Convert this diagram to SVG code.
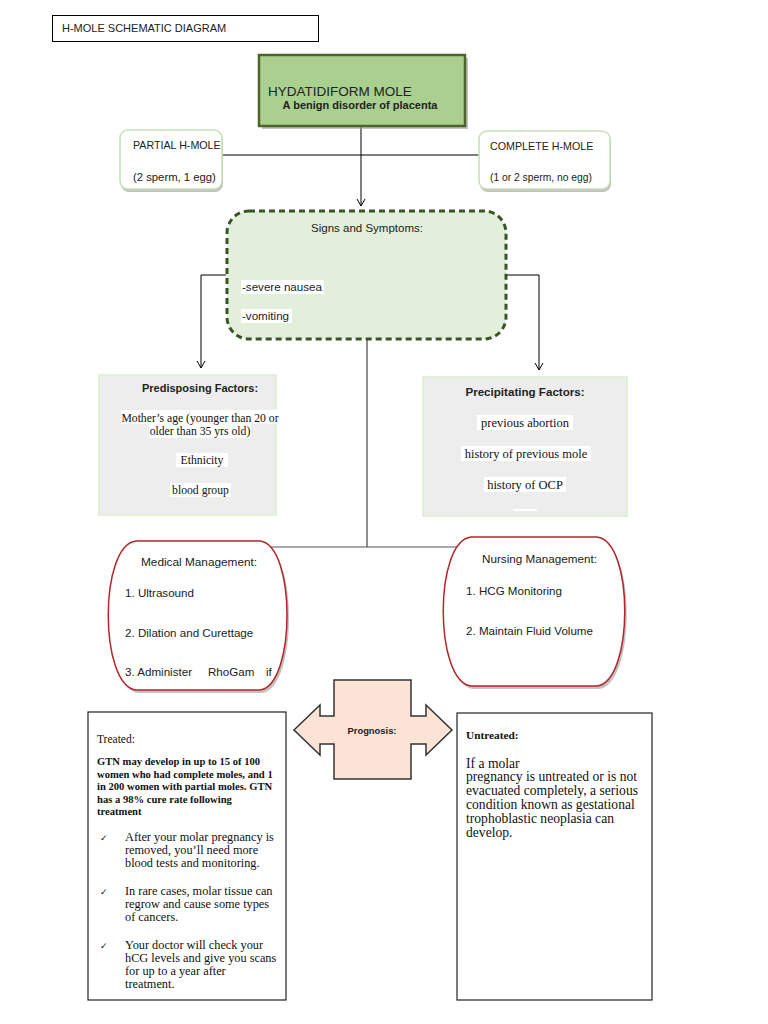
<svg xmlns="http://www.w3.org/2000/svg" width="768" height="1024" viewBox="0 0 768 1024">
<defs>
<marker id="arr" markerWidth="10" markerHeight="10" refX="8" refY="5" orient="auto" markerUnits="userSpaceOnUse">
<path d="M1,1 L8,5 L1,9" fill="none" stroke="#000" stroke-width="1"/>
</marker>
<style>
.sans{font-family:"Liberation Sans",Arial,sans-serif;fill:#222}
.serif{font-family:"Liberation Serif","Times New Roman",serif;fill:#111}
.conn{fill:none;stroke:#000;stroke-width:1}
.hl{fill:#fff}
.mgmt{fill:#fff;stroke:#b3262a;stroke-width:1.5}
.shadow{fill:#9a9a9a;opacity:0.6}
.card{fill:#fff;stroke:#c5e0b4;stroke-width:1.5}
.factor{fill:#ededed;stroke:#e2efd9;stroke-width:2}
.doc{fill:#fff;stroke:#222;stroke-width:1.2}
</style>
</defs>
<rect width="768" height="1024" fill="#fff"/>

<g id="title">
<rect x="52.5" y="15.5" width="266" height="26" fill="#fff" stroke="#000" stroke-width="1"/>
<text x="62" y="32" class="sans" font-size="11" fill="#000">H-MOLE SCHEMATIC DIAGRAM</text>
</g>

<g id="connectors">
<line x1="361" y1="126" x2="361" y2="206" class="conn" marker-end="url(#arr)"/>
<line x1="222" y1="155" x2="479" y2="155" class="conn"/>
<polyline points="226,275 201,275 201,368" class="conn" marker-end="url(#arr)"/>
<polyline points="506,275 539,275 539,370" class="conn" marker-end="url(#arr)"/>
<line x1="367" y1="339" x2="367" y2="547" stroke="#444" stroke-width="1.2"/>
<line x1="268" y1="547" x2="462" y2="547" stroke="#555" stroke-width="1.2"/>
</g>

<g id="hydatidiform">
<rect x="262" y="58" width="206" height="71" class="shadow"/>
<rect x="259" y="55" width="206" height="71" fill="#a9d08e" stroke="#4f6228" stroke-width="2.5"/>
<text x="268" y="96" class="sans" font-size="13.5" fill="#333">HYDATIDIFORM MOLE</text>
<text x="360" y="109" class="sans" font-size="11" font-weight="bold" text-anchor="middle" fill="#222">A benign disorder of placenta</text>
</g>

<g id="partial">
<rect x="121" y="133" width="102" height="59" rx="8" class="shadow"/>
<rect x="120" y="130" width="102" height="59" rx="8" class="card"/>
<text x="133" y="149" class="sans" font-size="10.7">PARTIAL H-MOLE</text>
<text x="133" y="181" class="sans" font-size="11.3">(2 sperm, 1 egg)</text>
</g>

<g id="complete">
<rect x="480" y="134" width="131" height="58" rx="8" class="shadow"/>
<rect x="479" y="131" width="131" height="58" rx="8" class="card"/>
<text x="490" y="150" class="sans" font-size="10.7">COMPLETE H-MOLE</text>
<text x="490" y="181" class="sans" font-size="10.3">(1 or 2 sperm, no egg)</text>
</g>

<g id="signs">
<rect x="227" y="211" width="279" height="128" rx="22" fill="#e2efda" stroke="#375623" stroke-width="3" stroke-dasharray="6 4"/>
<text x="367" y="232" class="sans" font-size="11.5" text-anchor="middle">Signs and Symptoms:</text>
<rect x="241" y="280" width="83" height="14" class="hl"/>
<text x="242" y="291" class="sans" font-size="11.6">-severe nausea</text>
<rect x="241" y="309" width="51" height="14" class="hl"/>
<text x="242" y="320" class="sans" font-size="11.6">-vomiting</text>
</g>

<g id="predisposing">
<rect x="99" y="375" width="177" height="140" class="factor"/>
<text x="200" y="392" class="sans" font-size="11" font-weight="bold" text-anchor="middle">Predisposing Factors:</text>
<rect x="121" y="410" width="159" height="14" class="hl"/>
<rect x="149" y="424" width="102" height="14" class="hl"/>
<text x="200" y="422" class="serif" font-size="11.7" text-anchor="middle">Mother’s age (younger than 20 or</text>
<text x="200" y="435" class="serif" font-size="11.7" text-anchor="middle">older than 35 yrs old)</text>
<rect x="176" y="453" width="52" height="14" class="hl"/>
<text x="202" y="464" class="serif" font-size="11.7" text-anchor="middle">Ethnicity</text>
<rect x="170" y="483" width="61" height="14" class="hl"/>
<text x="200.5" y="494" class="serif" font-size="11.7" text-anchor="middle">blood group</text>
</g>

<g id="precipitating">
<rect x="423" y="377" width="204" height="139" class="factor"/>
<text x="525" y="396" class="sans" font-size="11.6" font-weight="bold" text-anchor="middle">Precipitating Factors:</text>
<rect x="477" y="415" width="96" height="15" class="hl"/>
<text x="525" y="427" class="serif" font-size="12.5" text-anchor="middle">previous abortion</text>
<rect x="461" y="446" width="130" height="15" class="hl"/>
<text x="526" y="458" class="serif" font-size="12.5" text-anchor="middle">history of previous mole</text>
<rect x="484" y="477" width="82" height="15" class="hl"/>
<text x="525" y="489" class="serif" font-size="12.5" text-anchor="middle">history of OCP</text>
<rect x="513" y="509" width="24" height="2" class="hl"/>
</g>

<g id="medical">
<path d="M138,544 L262,544 C298,548 298,688 262,693 L138,693 C101,688 101,548 138,544 Z" class="shadow"/>
<path d="M136,541 L260,541 C296,545 296,685 260,690 L136,690 C99,685 99,545 136,541 Z" class="mgmt"/>
<text x="141" y="566" class="sans" font-size="11.8">Medical Management:</text>
<text x="125" y="597" class="sans" font-size="11.6">1. Ultrasound</text>
<text x="125" y="637" class="sans" font-size="11.6">2. Dilation and Curettage</text>
<text class="sans" font-size="11.6" y="676"><tspan x="125">3. Administer</tspan><tspan x="208">RhoGam</tspan><tspan x="266">if</tspan></text>
</g>

<g id="nursing">
<path d="M473,540 L599,540 C636,544 636,684 599,689 L473,689 C436,684 436,544 473,540 Z" class="shadow"/>
<path d="M471,537 L597,537 C634,541 634,681 597,686 L471,686 C434,681 434,541 471,537 Z" class="mgmt"/>
<text x="482" y="563" class="sans" font-size="11.7">Nursing Management:</text>
<text x="466" y="595" class="sans" font-size="11.6">1. HCG Monitoring</text>
<text x="466" y="635" class="sans" font-size="11.6">2. Maintain Fluid Volume</text>
</g>

<g id="prognosis">
<path d="M294,730 L320,705 L320,716 L334,716 L334,680 L411,680 L411,716 L426,716 L426,705 L452,730 L426,755 L426,744 L411,744 L411,779 L334,779 L334,744 L320,744 L320,755 Z" fill="#fbe4d5" stroke="#333" stroke-width="1.5" stroke-linejoin="miter"/>
<text x="372" y="734" class="sans" font-size="9.4" font-weight="bold" text-anchor="middle">Prognosis:</text>
</g>

<g id="treated">
<rect x="88" y="712" width="198" height="288" class="doc"/>
<text x="97" y="743" class="serif" font-size="11.5">Treated:</text>
<g class="serif" font-size="10.6" font-weight="bold">
<text x="97" y="765">GTN may develop in up to 15 of 100</text>
<text x="97" y="778">women who had complete moles, and 1</text>
<text x="97" y="790">in 200 women with partial moles. GTN</text>
<text x="97" y="803">has a 98% cure rate following</text>
<text x="97" y="815">treatment</text>
</g>
<g class="serif" font-size="12.3">
<text x="100" y="841" font-size="9">✓</text>
<text x="125" y="841">After your molar pregnancy is</text>
<text x="125" y="854">removed, you’ll need more</text>
<text x="125" y="867">blood tests and monitoring.</text>
<text x="100" y="895" font-size="9">✓</text>
<text x="125" y="895">In rare cases, molar tissue can</text>
<text x="125" y="908">regrow and cause some types</text>
<text x="125" y="921">of cancers.</text>
<text x="100" y="949" font-size="9">✓</text>
<text x="125" y="949">Your doctor will check your</text>
<text x="125" y="962">hCG levels and give you scans</text>
<text x="125" y="975">for up to a year after</text>
<text x="125" y="988">treatment.</text>
</g>
</g>

<g id="untreated">
<rect x="457" y="713" width="195" height="287" class="doc"/>
<text x="466" y="739" class="serif" font-size="11.3" font-weight="bold">Untreated:</text>
<g class="serif" font-size="13.6">
<text x="466" y="768">If a molar</text>
<text x="466" y="781">pregnancy is untreated or is not</text>
<text x="466" y="795">evacuated completely, a serious</text>
<text x="466" y="809">condition known as gestational</text>
<text x="466" y="823">trophoblastic neoplasia can</text>
<text x="466" y="837">develop.</text>
</g>
</g>
</svg>
